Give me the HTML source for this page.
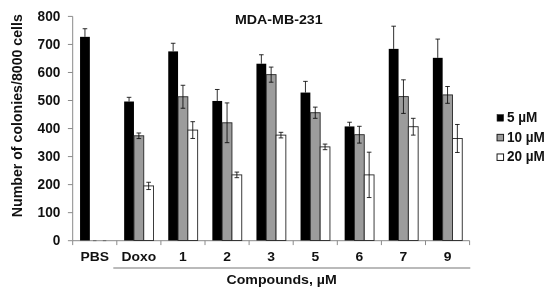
<!DOCTYPE html>
<html lang="en"><head><meta charset="utf-8"><title>MDA-MB-231</title>
<style>html,body{margin:0;padding:0;background:#fff;}svg{display:block;}</style></head>
<body>
<svg width="550" height="294" viewBox="0 0 550 294" font-family="'Liberation Sans', sans-serif" font-weight="bold" fill="#111">
<rect width="550" height="294" fill="#fff"/>
<g stroke="#8a8a8a" stroke-width="1" fill="none">
<path d="M72.70 16.4V240.70H469.60"/>
<path d="M67.90 240.70H72.70"/>
<path d="M67.90 212.66H72.70"/>
<path d="M67.90 184.62H72.70"/>
<path d="M67.90 156.59H72.70"/>
<path d="M67.90 128.55H72.70"/>
<path d="M67.90 100.51H72.70"/>
<path d="M67.90 72.47H72.70"/>
<path d="M67.90 44.44H72.70"/>
<path d="M67.90 16.40H72.70"/>
<path d="M72.70 240.70V245.10"/>
<path d="M116.80 240.70V245.10"/>
<path d="M160.90 240.70V245.10"/>
<path d="M205.00 240.70V245.10"/>
<path d="M249.10 240.70V245.10"/>
<path d="M293.20 240.70V245.10"/>
<path d="M337.30 240.70V245.10"/>
<path d="M381.40 240.70V245.10"/>
<path d="M425.50 240.70V245.10"/>
<path d="M469.60 240.70V245.10"/>
</g>
<rect x="80.05" y="36.84" width="9.80" height="203.61" fill="#000"/>
<rect x="124.15" y="101.52" width="9.80" height="138.93" fill="#000"/>
<rect x="133.95" y="135.79" width="9.80" height="104.66" fill="#9c9c9c" stroke="#262626" stroke-width="0.9"/>
<rect x="143.75" y="185.91" width="9.80" height="54.54" fill="#fff" stroke="#262626" stroke-width="0.9"/>
<rect x="168.25" y="51.40" width="9.80" height="189.05" fill="#000"/>
<rect x="178.05" y="96.76" width="9.80" height="143.69" fill="#9c9c9c" stroke="#262626" stroke-width="0.9"/>
<rect x="187.85" y="130.08" width="9.80" height="110.37" fill="#fff" stroke="#262626" stroke-width="0.9"/>
<rect x="212.35" y="100.96" width="9.80" height="139.49" fill="#000"/>
<rect x="222.15" y="122.80" width="9.80" height="117.65" fill="#9c9c9c" stroke="#262626" stroke-width="0.9"/>
<rect x="231.95" y="174.88" width="9.80" height="65.57" fill="#fff" stroke="#262626" stroke-width="0.9"/>
<rect x="256.45" y="63.72" width="9.80" height="176.73" fill="#000"/>
<rect x="266.25" y="74.64" width="9.80" height="165.81" fill="#9c9c9c" stroke="#262626" stroke-width="0.9"/>
<rect x="276.05" y="135.12" width="9.80" height="105.33" fill="#fff" stroke="#262626" stroke-width="0.9"/>
<rect x="300.55" y="92.56" width="9.80" height="147.89" fill="#000"/>
<rect x="310.35" y="112.72" width="9.80" height="127.73" fill="#9c9c9c" stroke="#262626" stroke-width="0.9"/>
<rect x="320.15" y="146.88" width="9.80" height="93.57" fill="#fff" stroke="#262626" stroke-width="0.9"/>
<rect x="344.65" y="126.44" width="9.80" height="114.01" fill="#000"/>
<rect x="354.45" y="134.70" width="9.80" height="105.75" fill="#9c9c9c" stroke="#262626" stroke-width="0.9"/>
<rect x="364.25" y="174.88" width="9.80" height="65.57" fill="#fff" stroke="#262626" stroke-width="0.9"/>
<rect x="388.75" y="48.88" width="9.80" height="191.57" fill="#000"/>
<rect x="398.55" y="96.62" width="9.80" height="143.83" fill="#9c9c9c" stroke="#262626" stroke-width="0.9"/>
<rect x="408.35" y="126.72" width="9.80" height="113.73" fill="#fff" stroke="#262626" stroke-width="0.9"/>
<rect x="432.85" y="57.84" width="9.80" height="182.61" fill="#000"/>
<rect x="442.65" y="94.91" width="9.80" height="145.54" fill="#9c9c9c" stroke="#262626" stroke-width="0.9"/>
<rect x="452.45" y="138.48" width="9.80" height="101.97" fill="#fff" stroke="#262626" stroke-width="0.9"/>
<g stroke="#0a0a0a" stroke-width="0.85" fill="none">
<path d="M84.95 36.84V28.72M82.65 28.72H87.25"/>
<path d="M93.05 240.70H96.45" stroke-opacity="0.45"/>
<path d="M102.85 240.70H106.25" stroke-opacity="0.45"/>
<path d="M129.05 101.52V97.32M126.75 97.32H131.35"/>
<path d="M138.85 138.59V132.99M136.55 132.99H141.15M136.55 138.59H141.15"/>
<path d="M148.65 189.55V182.27M146.35 182.27H150.95M146.35 189.55H150.95"/>
<path d="M173.15 51.40V43.28M170.85 43.28H175.45"/>
<path d="M182.95 108.24V85.28M180.65 85.28H185.25M180.65 108.24H185.25"/>
<path d="M192.75 138.48V121.68M190.45 121.68H195.05M190.45 138.48H195.05"/>
<path d="M217.25 100.96V89.48M214.95 89.48H219.55"/>
<path d="M227.05 142.68V102.92M224.75 102.92H229.35M224.75 142.68H229.35"/>
<path d="M236.85 177.68V172.08M234.55 172.08H239.15M234.55 177.68H239.15"/>
<path d="M261.35 63.72V54.76M259.05 54.76H263.65"/>
<path d="M271.15 82.20V67.08M268.85 67.08H273.45M268.85 82.20H273.45"/>
<path d="M280.95 137.92V132.32M278.65 132.32H283.25M278.65 137.92H283.25"/>
<path d="M305.45 92.56V81.36M303.15 81.36H307.75"/>
<path d="M315.25 118.32V107.12M312.95 107.12H317.55M312.95 118.32H317.55"/>
<path d="M325.05 149.68V144.08M322.75 144.08H327.35M322.75 149.68H327.35"/>
<path d="M349.55 126.44V122.24M347.25 122.24H351.85"/>
<path d="M359.35 143.10V126.30M357.05 126.30H361.65M357.05 143.10H361.65"/>
<path d="M369.15 197.56V152.20M366.85 152.20H371.45M366.85 197.56H371.45"/>
<path d="M393.65 48.88V26.20M391.35 26.20H395.95"/>
<path d="M403.45 113.42V79.82M401.15 79.82H405.75M401.15 113.42H405.75"/>
<path d="M413.25 135.12V118.32M410.95 118.32H415.55M410.95 135.12H415.55"/>
<path d="M437.75 57.84V39.08M435.45 39.08H440.05"/>
<path d="M447.55 103.31V86.51M445.25 86.51H449.85M445.25 103.31H449.85"/>
<path d="M457.35 152.48V124.48M455.05 124.48H459.65M455.05 152.48H459.65"/>
</g>
<g font-size="13.3" text-anchor="end">
<text transform="translate(60.30 245.45) scale(0.975 1)" font-size="14.0" text-anchor="end">0</text>
<text transform="translate(60.30 217.41) scale(0.975 1)" font-size="14.0" text-anchor="end">100</text>
<text transform="translate(60.30 189.38) scale(0.975 1)" font-size="14.0" text-anchor="end">200</text>
<text transform="translate(60.30 161.34) scale(0.975 1)" font-size="14.0" text-anchor="end">300</text>
<text transform="translate(60.30 133.30) scale(0.975 1)" font-size="14.0" text-anchor="end">400</text>
<text transform="translate(60.30 105.26) scale(0.975 1)" font-size="14.0" text-anchor="end">500</text>
<text transform="translate(60.30 77.22) scale(0.975 1)" font-size="14.0" text-anchor="end">600</text>
<text transform="translate(60.30 49.19) scale(0.975 1)" font-size="14.0" text-anchor="end">700</text>
<text transform="translate(60.30 21.15) scale(0.975 1)" font-size="14.0" text-anchor="end">800</text>
</g>
<g font-size="13.3" text-anchor="middle">
<text transform="translate(94.75 261.40) scale(1.03 1)" font-size="13.5" text-anchor="middle">PBS</text>
<text transform="translate(138.85 261.40) scale(1.03 1)" font-size="13.5" text-anchor="middle">Doxo</text>
<text transform="translate(182.95 261.40) scale(1.03 1)" font-size="13.5" text-anchor="middle">1</text>
<text transform="translate(227.05 261.40) scale(1.03 1)" font-size="13.5" text-anchor="middle">2</text>
<text transform="translate(271.15 261.40) scale(1.03 1)" font-size="13.5" text-anchor="middle">3</text>
<text transform="translate(315.25 261.40) scale(1.03 1)" font-size="13.5" text-anchor="middle">5</text>
<text transform="translate(359.35 261.40) scale(1.03 1)" font-size="13.5" text-anchor="middle">6</text>
<text transform="translate(403.45 261.40) scale(1.03 1)" font-size="13.5" text-anchor="middle">7</text>
<text transform="translate(447.55 261.40) scale(1.03 1)" font-size="13.5" text-anchor="middle">9</text>
</g>
<path d="M113.3 268.0H470.3" stroke="#777" stroke-width="1.1" fill="none"/>
<text transform="translate(278.80 24.30) scale(1.072 1)" font-size="13.3" text-anchor="middle">MDA-MB-231</text>
<text transform="translate(281.60 284.20) scale(1.065 1)" font-size="13.3" text-anchor="middle">Compounds, µM</text>
<text transform="translate(21.75 115.70) rotate(-90) scale(1.012 1)" font-size="14.0" text-anchor="middle">Number of colonies/8000 cells</text>
<g font-size="13.3">
<rect x="497.05" y="114.65" width="6.5" height="6.5" fill="#000" stroke="#1a1a1a" stroke-width="0.6"/>
<text transform="translate(506.90 121.90) scale(0.955 1)" font-size="14.2" text-anchor="start">5 µM</text>
<rect x="497.05" y="134.35" width="6.5" height="6.5" fill="#9c9c9c" stroke="#1a1a1a" stroke-width="1"/>
<text transform="translate(506.90 141.60) scale(0.955 1)" font-size="14.2" text-anchor="start">10 µM</text>
<rect x="497.05" y="153.95" width="6.5" height="6.5" fill="#fff" stroke="#1a1a1a" stroke-width="1"/>
<text transform="translate(506.90 161.20) scale(0.955 1)" font-size="14.2" text-anchor="start">20 µM</text>
</g>
</svg>
</body></html>
